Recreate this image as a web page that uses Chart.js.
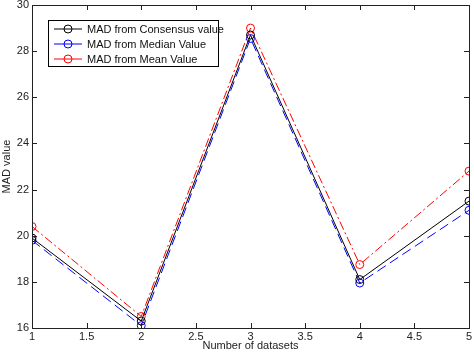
<!DOCTYPE html>
<html>
<head>
<meta charset="utf-8">
<script src="https://cdn.jsdelivr.net/npm/chart.js@4"></script>
<style>
  html, body { margin: 0; padding: 0; background: #fff; }
  #wrap { width: 474px; height: 353px; }
</style>
</head>
<body>
<div id="wrap"><canvas id="grafico" width="474" height="353"></canvas></div>
<script>
const datasetsX = [1, 2, 3, 4, 5];
const consensoMAD = [19.9, 16.3, 28.7, 18.1, 21.5];
const medianaMAD = [19.8, 16.1, 28.55, 17.95, 21.1];
const mediaMAD = [20.4, 16.5, 29.0, 18.75, 22.8];
const rotulosSeries = ["MAD from Consensus value", "MAD from Median Value", "MAD from Mean Value"];
const coresSeries = ["#000000", "#0000ff", "#ff0000"];
const tracosSeries = [[], [10, 5], [9, 3, 2, 3]];

const fonte = "Liberation Sans, Arial, sans-serif";

function pontos(valores) {
  return valores.map((v, i) => ({ x: datasetsX[i], y: v }));
}

// ticks voltados para dentro em todos os lados, estilo MATLAB
const ticksDentro = {
  id: "ticksDentro",
  afterDraw(chart) {
    const { ctx, chartArea: a, scales } = chart;
    ctx.save();
    ctx.strokeStyle = "#222";
    ctx.lineWidth = 1;
    ctx.strokeRect(a.left + 0.5, a.top + 0.5, a.right - a.left, a.bottom - a.top);
    ctx.beginPath();
    scales.x.ticks.forEach((t) => {
      const px = Math.round(scales.x.getPixelForValue(t.value)) + 0.5;
      ctx.moveTo(px, a.bottom); ctx.lineTo(px, a.bottom - 5);
      ctx.moveTo(px, a.top); ctx.lineTo(px, a.top + 5);
    });
    scales.y.ticks.forEach((t) => {
      const py = Math.round(scales.y.getPixelForValue(t.value)) + 0.5;
      ctx.moveTo(a.left, py); ctx.lineTo(a.left + 5, py);
      ctx.moveTo(a.right, py); ctx.lineTo(a.right - 5, py);
    });
    ctx.stroke();

    // legenda dentro da área
    const x0 = a.left + 16, y0 = 20, w = 170, h = 46;
    ctx.fillStyle = "#fff";
    ctx.fillRect(x0, y0, w, h);
    ctx.strokeStyle = "#000";
    ctx.strokeRect(x0 + 0.5, y0 + 0.5, w, h);
    ctx.font = "11px " + fonte;
    ctx.textBaseline = "middle";
    rotulosSeries.forEach((rotulo, i) => {
      const y = y0 + 9 + i * 15;
      ctx.strokeStyle = coresSeries[i];
      ctx.setLineDash([]);
      ctx.beginPath();
      ctx.moveTo(x0 + 6, y); ctx.lineTo(x0 + 34, y);
      ctx.stroke();
      ctx.beginPath();
      ctx.arc(x0 + 20, y, 4, 0, Math.PI * 2);
      ctx.stroke();
      ctx.fillStyle = "#111";
      ctx.fillText(rotulo, x0 + 39, y + 1);
    });
    ctx.restore();
  },
};

const ctx = document.getElementById("grafico");

new Chart(ctx, {
  type: "line",
  data: {
    datasets: [consensoMAD, medianaMAD, mediaMAD].map((valores, i) => ({
      label: rotulosSeries[i],
      data: pontos(valores),
      borderColor: coresSeries[i],
      backgroundColor: "rgba(0,0,0,0)",
      borderWidth: 1,
      borderDash: tracosSeries[i],
      pointStyle: "circle",
      pointRadius: 4,
      pointBorderWidth: 1,
      pointBorderColor: coresSeries[i],
      pointBackgroundColor: "rgba(0,0,0,0)",
      tension: 0,
      fill: false,
    })),
  },
  options: {
    responsive: false,
    animation: false,
    layout: { padding: { top: 3, right: 3, left: 0, bottom: 0 } },
    plugins: {
      legend: { display: false },
      tooltip: { enabled: false },
    },
    scales: {
      x: {
        type: "linear",
        min: 1,
        max: 5,
        ticks: {
          stepSize: 0.5,
          color: "#222",
          font: { size: 11, family: fonte },
          padding: 2,
          maxRotation: 0,
          callback: (v) => String(v),
        },
        grid: { display: false, drawTicks: false },
        border: { display: false },
        title: {
          display: true,
          text: "Number of datasets",
          color: "#222",
          font: { size: 11, family: fonte },
          padding: { top: 0, bottom: 0 },
        },
        afterFit(scale) {
          scale.height = 25;
          scale.paddingLeft = 0;
          scale.paddingRight = 0;
        },
      },
      y: {
        min: 16,
        max: 30,
        ticks: {
          stepSize: 2,
          color: "#222",
          font: { size: 11, family: fonte },
          padding: 3,
        },
        grid: { display: false, drawTicks: false },
        border: { display: false },
        title: {
          display: true,
          text: "MAD value",
          color: "#222",
          font: { size: 11, family: fonte },
          padding: { top: 0, bottom: 0 },
        },
        afterFit(scale) {
          scale.width = 32;
          scale.paddingTop = 0;
          scale.paddingBottom = 0;
        },
      },
    },
  },
  plugins: [ticksDentro],
});
</script>
</body>
</html>
